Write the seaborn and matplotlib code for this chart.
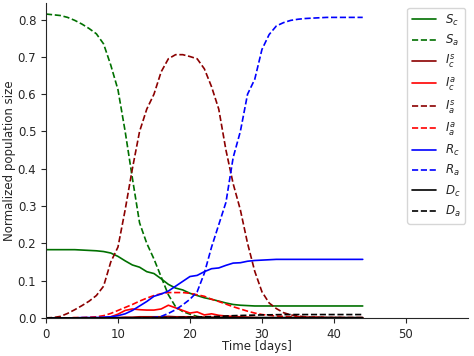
import numpy as np
import pandas as pd
import seaborn as sns
import matplotlib
matplotlib.use("Agg")
import matplotlib.pyplot as plt

days = list(range(45))

S_c = [0.183, 0.183, 0.183, 0.183, 0.183, 0.182, 0.181, 0.180, 0.178, 0.174,
       0.165, 0.153, 0.142, 0.136, 0.124, 0.119, 0.105, 0.090, 0.080, 0.075,
       0.066, 0.060, 0.054, 0.050, 0.045, 0.040, 0.036, 0.034, 0.033, 0.032,
       0.032, 0.032, 0.032, 0.032, 0.032, 0.032, 0.032, 0.032, 0.032, 0.032,
       0.032, 0.032, 0.032, 0.032, 0.032]
S_a = [0.815, 0.813, 0.811, 0.806, 0.798, 0.788, 0.776, 0.762, 0.735, 0.678,
       0.612, 0.500, 0.375, 0.255, 0.200, 0.158, 0.110, 0.062, 0.030, 0.017,
       0.010, 0.004, 0.001, 0.0, 0.0, 0.0, 0.0, 0.0, 0.0, 0.0,
       0.0, 0.0, 0.0, 0.0, 0.0, 0.0, 0.0, 0.0, 0.0, 0.0,
       0.0, 0.0, 0.0, 0.0, 0.0]
I_cs = [0.0, 0.0, 0.0, 0.0, 0.0, 0.0, 0.0, 0.0, 0.0, 0.001,
        0.001, 0.002, 0.002, 0.003, 0.003, 0.003, 0.003, 0.004, 0.003, 0.003,
        0.003, 0.002, 0.002, 0.002, 0.001, 0.001, 0.001, 0.001, 0.0, 0.0,
        0.0, 0.0, 0.0, 0.0, 0.0, 0.0, 0.0, 0.0, 0.0, 0.0,
        0.0, 0.0, 0.0, 0.0, 0.0]
I_ca = [0.0, 0.0, 0.0, 0.0, 0.0, 0.0, 0.0, 0.0, 0.001, 0.003,
        0.010, 0.020, 0.024, 0.022, 0.021, 0.021, 0.024, 0.034, 0.027, 0.020,
        0.013, 0.016, 0.008, 0.011, 0.007, 0.005, 0.004, 0.003, 0.002, 0.001,
        0.0, 0.0, 0.0, 0.0, 0.0, 0.0, 0.0, 0.0, 0.0, 0.0,
        0.0, 0.0, 0.0, 0.0, 0.0]
I_as = [0.0, 0.001, 0.004, 0.012, 0.022, 0.033, 0.045, 0.060, 0.085, 0.150,
        0.190, 0.290, 0.400, 0.500, 0.560, 0.600, 0.660, 0.695, 0.706, 0.706,
        0.701, 0.695, 0.668, 0.620, 0.560, 0.450, 0.360, 0.290, 0.200, 0.125,
        0.070, 0.040, 0.025, 0.014, 0.008, 0.005, 0.003, 0.002, 0.002, 0.001,
        0.001, 0.001, 0.0, 0.0, 0.0]
I_aa = [0.0, 0.0, 0.0, 0.0, 0.001, 0.001, 0.002, 0.003, 0.006, 0.012,
        0.020, 0.028, 0.036, 0.045, 0.053, 0.060, 0.065, 0.068, 0.068, 0.068,
        0.066, 0.062, 0.058, 0.050, 0.044, 0.037, 0.030, 0.024, 0.018, 0.013,
        0.009, 0.007, 0.005, 0.004, 0.003, 0.003, 0.002, 0.002, 0.002, 0.001,
        0.001, 0.001, 0.001, 0.001, 0.001]
R_c = [0.0, 0.0, 0.0, 0.0, 0.0, 0.001, 0.001, 0.001, 0.002, 0.003,
       0.006, 0.011, 0.020, 0.032, 0.044, 0.058, 0.064, 0.072, 0.085, 0.098,
       0.111, 0.114, 0.124, 0.132, 0.134, 0.141, 0.147, 0.148, 0.152, 0.154,
       0.155, 0.156, 0.157, 0.157, 0.157, 0.157, 0.157, 0.157, 0.157, 0.157,
       0.157, 0.157, 0.157, 0.157, 0.157]
R_a = [0.0, 0.0, 0.0, 0.0, 0.0, 0.0, 0.0, 0.0, 0.0, 0.0,
       0.0, 0.0, 0.0, 0.0, 0.0, 0.001, 0.004, 0.012, 0.022, 0.035,
       0.050, 0.070, 0.120, 0.190, 0.250, 0.310, 0.430, 0.500, 0.600, 0.640,
       0.720, 0.760, 0.783, 0.792, 0.798, 0.801, 0.803, 0.804, 0.805, 0.806,
       0.806, 0.806, 0.806, 0.806, 0.806]
D_c = [0.0, 0.0, 0.0, 0.0, 0.0, 0.0, 0.0, 0.0, 0.0, 0.0,
       0.0, 0.0, 0.0, 0.0, 0.0, 0.0, 0.0, 0.0, 0.0, 0.0,
       0.0, 0.0, 0.0, 0.0, 0.001, 0.001, 0.001, 0.001, 0.001, 0.001,
       0.001, 0.001, 0.001, 0.001, 0.001, 0.001, 0.001, 0.001, 0.001, 0.001,
       0.001, 0.001, 0.001, 0.001, 0.001]
D_a = [0.0, 0.0, 0.0, 0.0, 0.0, 0.0, 0.0, 0.0, 0.0, 0.0,
       0.0, 0.0, 0.0, 0.0, 0.0, 0.0005, 0.0007, 0.0009, 0.001, 0.0015,
       0.002, 0.0025, 0.003, 0.0035, 0.004, 0.005, 0.006, 0.0065, 0.007, 0.0075,
       0.008, 0.0083, 0.0086, 0.009, 0.009, 0.009, 0.009, 0.009, 0.009, 0.009,
       0.009, 0.009, 0.009, 0.009, 0.009]

labels = [r"$S_c$", r"$S_a$", r"$I_c^s$", r"$I_c^a$", r"$I_a^s$", r"$I_a^a$",
          r"$R_c$", r"$R_a$", r"$D_c$", r"$D_a$"]
series = [S_c, S_a, I_cs, I_ca, I_as, I_aa, R_c, R_a, D_c, D_a]
colors = ["#007000", "#007000", "darkred", "red", "darkred", "red",
          "blue", "blue", "black", "black"]
styles = ["-", "--", "-", "-", "--", "--", "-", "--", "-", "--"]

sns.set_style("ticks")
plt.rcParams['font.family'] = ['DejaVu Sans']
FS = 8.5

fig = plt.figure(figsize=(4.74, 3.56), dpi=100)
ax = fig.add_axes([0.097, 0.107, 0.890, 0.885])

for lab, vals, c, ls in zip(labels, series, colors, styles):
    df = pd.DataFrame({"t": days, "v": vals})
    sns.lineplot(data=df, x="t", y="v", ax=ax, color=c, linestyle=ls,
                 linewidth=1.2, label=lab)

ax.set_xlim(0, 58.6)
ax.set_ylim(0, 0.845)
ax.set_xticks([0, 10, 20, 30, 40, 50])
ax.set_yticks([0.0, 0.1, 0.2, 0.3, 0.4, 0.5, 0.6, 0.7, 0.8])
ax.set_xlabel("Time [days]", fontsize=FS, labelpad=-0.5)
ax.set_ylabel("Normalized population size", fontsize=FS, labelpad=1)
ax.tick_params(labelsize=FS, length=3.5, width=0.8)
sns.despine(ax=ax)
ax.legend(loc="upper right", fontsize=FS, frameon=True, labelspacing=0.43,
          bbox_to_anchor=(1.008, 1.003))

fig.savefig("out.png", dpi=100)
